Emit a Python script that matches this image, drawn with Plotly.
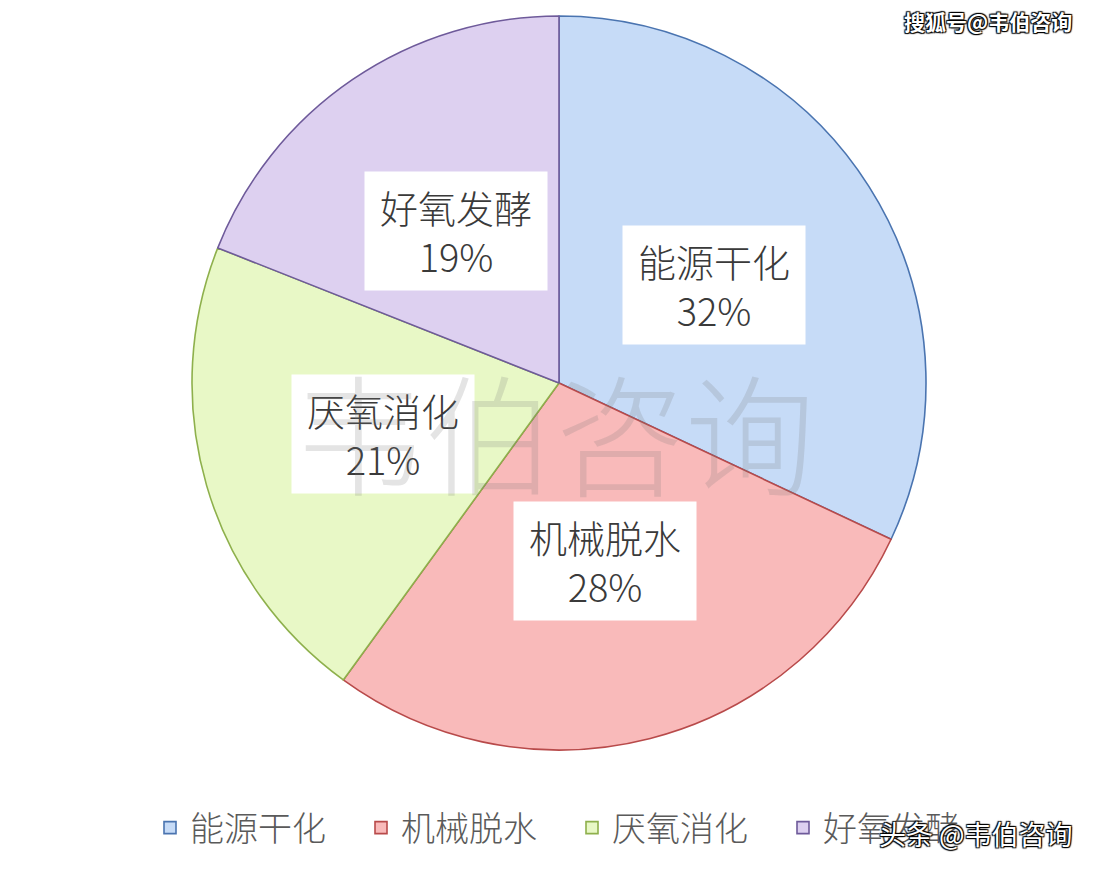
import math
import plotly.graph_objects as go

labels = ["能源干化", "机械脱水", "厌氧消化", "好氧发酵"]
values = [32, 28, 21, 19]
fill_colors = ["#c6dbf7", "#f9baba", "#e8f8c6", "#ddd0f0"]
line_colors = ["#4a74b0", "#b84a4a", "#8eb04c", "#6e5a9a"]

W, H = 1098, 872
CX, CY, R = 559, 383, 367  # pie centre/radius in px

fig = go.Figure(go.Pie(
    labels=labels, values=values, sort=False, direction="clockwise", rotation=0,
    textinfo="none", hoverinfo="label+percent",
    marker=dict(colors=fill_colors, line=dict(color=line_colors, width=1.6)),
    domain=dict(x=[(CX - R) / W, (CX + R) / W], y=[1 - (CY + R) / H, 1 - (CY - R) / H]),
))

# labels in white boxes at half radius along each slice's mid angle
total = sum(values)
cum = 0
annotations = []
for lab, v in zip(labels, values):
    mid = (cum + v / 2) / total * 2 * math.pi
    cum += v
    px = CX + 0.5 * R * math.sin(mid)
    py = CY - 0.5 * R * math.cos(mid)
    annotations.append(dict(
        x=px / W, y=1 - py / H, xref="paper", yref="paper", showarrow=False,
        xanchor="center", yanchor="middle",
        text=f"{lab}<br>{v}%", align="center", valign="middle",
        font=dict(family="Noto Sans CJK SC", size=38, color="#3a3a3a", weight=300),
        bgcolor="white", borderpad=11, width=160, height=96,
    ))

# watermarks
annotations.append(dict(
    x=555 / W, y=1 - 428 / H, xref="paper", yref="paper", showarrow=False,
    xanchor="center", yanchor="middle",
    text="韦伯咨询", font=dict(family="Noto Sans CJK SC", size=130, color="rgba(120,120,120,0.2)", weight=300),
))
shadow = "1px 1px 1px black, -1px -1px 1px black, 1px -1px 1px black, -1px 1px 1px black"
annotations.append(dict(
    x=1074 / W, y=1 - 21 / H, xref="paper", yref="paper", showarrow=False,
    xanchor="right", yanchor="middle",
    text="<b>搜狐号@韦伯咨询</b>",
    font=dict(family="Noto Sans CJK SC", size=21, color="white", shadow=shadow),
))
annotations.append(dict(
    x=1075 / W, y=1 - 833 / H, xref="paper", yref="paper", showarrow=False,
    xanchor="right", yanchor="middle",
    text="头条 @韦伯咨询",
    font=dict(family="Noto Sans CJK SC", size=27, color="white", shadow=shadow),
))

fig.update_layout(
    width=W, height=H, margin=dict(l=0, r=0, t=0, b=0, autoexpand=False),
    paper_bgcolor="white", plot_bgcolor="white",
    showlegend=True,
    legend=dict(orientation="h", x=150 / W, y=1 - 828 / H, xanchor="left", yanchor="middle",
                font=dict(family="Noto Sans CJK SC", size=34, color="#5a5a5a", weight=300),
                entrywidth=166, entrywidthmode="pixels", itemwidth=30,
                bgcolor="rgba(0,0,0,0)"),
    annotations=annotations,
)

fig.write_html("out.html")
